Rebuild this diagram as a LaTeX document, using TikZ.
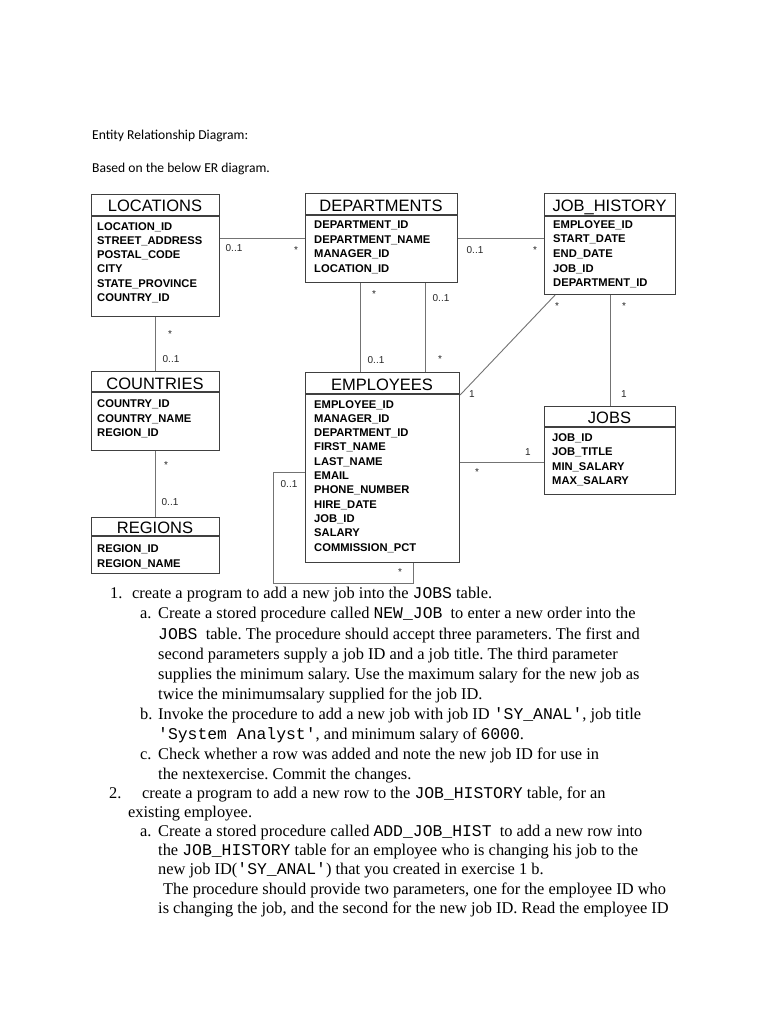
\documentclass[tikz,border=0pt]{standalone}
\usepackage{fontspec}
\setmainfont{Liberation Serif}
\setsansfont{Liberation Sans}
\setmonofont{Liberation Mono}
\newfontfamily\calib{Carlito}
\newcommand{\cd}[1]{{\ttfamily #1}}
\frenchspacing
\begin{document}
\begin{tikzpicture}[x=1pt,y=-1pt,
  ent/.style={draw=black!75, line width=1.1pt, inner sep=0pt, anchor=north west},
  sep/.style={draw=black!75, line width=1.1pt},
  hdr/.style={font=\sffamily\fontsize{16.5}{18}\selectfont, inner sep=0pt, anchor=base},
  row/.style={font=\sffamily\bfseries\fontsize{11.2}{13}\selectfont, inner sep=0pt, anchor=base west},
  conn/.style={draw=black!55, line width=0.9pt},
  lbl/.style={font=\sffamily\fontsize{10}{12}\selectfont, inner sep=0pt, anchor=base, text=black!85},
  txt/.style={font=\fontsize{16.4}{19}\selectfont, inner sep=0pt, anchor=base west},
  top/.style={font=\calib\fontsize{13.6}{16}\selectfont, inner sep=0pt, anchor=base west}]
\useasboundingbox (0,0) rectangle (768,1024);
\fill[white] (0,0) rectangle (768,1024);

% intro
\node[top] (t1) at (92,140) {Entity Relationship Diagram:};
\node[top] (t2) at (92,173) {Based on the below ER diagram.};

% entities
\node[ent, minimum width=128, minimum height=122] (loc) at (91,194) {};
\node[ent, minimum width=152, minimum height=89] (dep) at (305,193) {};
\node[ent, minimum width=131, minimum height=101] (jh) at (544,193) {};
\node[ent, minimum width=128, minimum height=79] (cou) at (91,371) {};
\node[ent, minimum width=128, minimum height=56] (reg) at (91,517) {};
\node[ent, minimum width=154, minimum height=190] (emp) at (305,372) {};
\node[ent, minimum width=131, minimum height=88] (jobs) at (544,406) {};

\draw[sep] ([yshift=-22pt]loc.north west) -- ([yshift=-22pt]loc.north east);
\draw[sep] ([yshift=-22pt]dep.north west) -- ([yshift=-22pt]dep.north east);
\draw[sep] ([yshift=-23pt]jh.north west) -- ([yshift=-23pt]jh.north east);
\draw[sep] ([yshift=-21pt]cou.north west) -- ([yshift=-21pt]cou.north east);
\draw[sep] ([yshift=-19pt]reg.north west) -- ([yshift=-19pt]reg.north east);
\draw[sep] ([yshift=-22pt]emp.north west) -- ([yshift=-22pt]emp.north east);
\draw[sep] ([yshift=-21pt]jobs.north west) -- ([yshift=-21pt]jobs.north east);

% headers
\node[hdr] (loc-h) at (155,212) {LOCATIONS};
\node[hdr] (dep-h) at (381,212) {DEPARTMENTS};
\node[hdr] (jh-h) at (609.5,212) {JOB\_HISTORY};
\node[hdr] (cou-h) at (155,389) {COUNTRIES};
\node[hdr] (reg-h) at (155,533) {REGIONS};
\node[hdr] (emp-h) at (382,390) {EMPLOYEES};
\node[hdr] (jobs-h) at (609.5,423) {JOBS};

% rows
\foreach \t [count=\i from 0] in {LOCATION\_ID,STREET\_ADDRESS,POSTAL\_CODE,CITY,STATE\_PROVINCE,COUNTRY\_ID}
  \node[row] (loc-r\i) at (97,230+14.3*\i) {\t};
\foreach \t [count=\i from 0] in {DEPARTMENT\_ID,DEPARTMENT\_NAME,MANAGER\_ID,LOCATION\_ID}
  \node[row] (dep-r\i) at (314,229+14.5*\i) {\t};
\foreach \t [count=\i from 0] in {EMPLOYEE\_ID,START\_DATE,END\_DATE,JOB\_ID,DEPARTMENT\_ID}
  \node[row] (jh-r\i) at (553,228.5+14.5*\i) {\t};
\foreach \t [count=\i from 0] in {COUNTRY\_ID,COUNTRY\_NAME,REGION\_ID}
  \node[row] (cou-r\i) at (97,407.5+14.5*\i) {\t};
\foreach \t [count=\i from 0] in {REGION\_ID,REGION\_NAME}
  \node[row] (reg-r\i) at (97,552.5+14.5*\i) {\t};
\foreach \t [count=\i from 0] in {EMPLOYEE\_ID,MANAGER\_ID,DEPARTMENT\_ID,FIRST\_NAME,LAST\_NAME,EMAIL,PHONE\_NUMBER,HIRE\_DATE,JOB\_ID,SALARY,COMMISSION\_PCT}
  \node[row] (emp-r\i) at (314,408+14.3*\i) {\t};
\foreach \t [count=\i from 0] in {JOB\_ID,JOB\_TITLE,MIN\_SALARY,MAX\_SALARY}
  \node[row] (jobs-r\i) at (552,441+14.5*\i) {\t};

% connectors
\coordinate (dx1) at (360,0);
\coordinate (dx2) at (425,0);
\coordinate (jhd) at (555,0);
\coordinate (empd) at (0,395);
\coordinate (ej) at (0,462);
\coordinate (sl1) at (273,472);
\coordinate (sl2) at (413,583);
\draw[conn] (dep.west -| loc.east) -- (dep.west);
\draw[conn] (dep.east) -- (dep.east -| jh.west);
\draw[conn] (loc.south) -- (cou.north);
\draw[conn] (cou.south) -- (reg.north);
\draw[conn] (dep.south -| dx1) -- (emp.north -| dx1);
\draw[conn] (dep.south -| dx2) -- (emp.north -| dx2);
\draw[conn] (jh.south -| jhd) -- (emp.east |- empd);
\draw[conn] (jh.south) -- (jobs.north);
\draw[conn] (emp.east |- ej) -- (jobs.west |- ej);
\draw[conn] (emp.west |- sl1) -| (sl2 -| sl1) -| (emp.south -| sl2);

% multiplicities
\node[lbl] (m1) at (234,251.5) {0..1};
\node[lbl] (m2) at (296,253.5) {*};
\node[lbl] (m3) at (475,253.5) {0..1};
\node[lbl] (m4) at (535,253.5) {*};
\node[lbl] (m5) at (170,337.5) {*};
\node[lbl] (m6) at (171,362.5) {0..1};
\node[lbl] (m7) at (166,468.5) {*};
\node[lbl] (m8) at (170,505.5) {0..1};
\node[lbl] (m9) at (374,297.5) {*};
\node[lbl] (m10) at (441,301.5) {0..1};
\node[lbl] (m11) at (376,363.5) {0..1};
\node[lbl] (m12) at (440,362.5) {*};
\node[lbl] (m13) at (557,309.5) {*};
\node[lbl] (m14) at (472,397.5) {1};
\node[lbl] (m15) at (624,309.5) {*};
\node[lbl] (m16) at (624,397.5) {1};
\node[lbl] (m17) at (528,455.5) {1};
\node[lbl] (m18) at (477,475.5) {*};
\node[lbl] (m19) at (289,487.5) {0..1};
\node[lbl] (m20) at (400,575.5) {*};

% body text
\node[txt] (n1) at (110,598) {1.};
\node[txt] (l1) at (132,598) {create a program to add a new job into the \cd{JOBS} table.};
\node[txt] (na) at (140,618) {a.};
\node[txt] (l2) at (158,618) {Create a stored procedure called \cd{NEW\_JOB}\ \ to enter a new order into the};
\node[txt] (l3) at (158,639) {\cd{JOBS}\ \ table. The procedure should accept three parameters. The first and};
\node[txt] (l4) at (158,659) {second parameters supply a job ID and a job title. The third parameter};
\node[txt] (l5) at (158,679) {supplies the minimum salary. Use the maximum salary for the new job as};
\node[txt] (l6) at (158,699) {twice the minimumsalary supplied for the job ID.};
\node[txt] (nb) at (140,719) {b.};
\node[txt] (l7) at (158,719) {Invoke the procedure to add a new job with job ID \cd{'SY\_ANAL'}, job title};
\node[txt] (l8) at (158,739) {\cd{'System Analyst'}, and minimum salary of \cd{6000}.};
\node[txt] (nc) at (140,759) {c.};
\node[txt] (l9) at (158,759) {Check whether a row was added and note the new job ID for use in};
\node[txt] (l10) at (158,779) {the nextexercise. Commit the changes.};
\node[txt] (n2) at (109,798) {2.};
\node[txt] (l11) at (142,798) {create a program to add a new row to the \cd{JOB\_HISTORY} table, for an};
\node[txt] (l12) at (128,817) {existing employee.};
\node[txt] (na2) at (140,836) {a.};
\node[txt] (l13) at (158,836) {Create a stored procedure called \cd{ADD\_JOB\_HIST}\ \ to add a new row into};
\node[txt] (l14) at (158,855) {the \cd{JOB\_HISTORY} table for an employee who is changing his job to the};
\node[txt] (l15) at (158,874) {new job ID(\cd{'SY\_ANAL'}) that you created in exercise 1 b.};
\node[txt] (l16) at (163,894) {The procedure should provide two parameters, one for the employee ID who};
\node[txt] (l17) at (158,913) {is changing the job, and the second for the new job ID. Read the employee ID};
\end{tikzpicture}
\end{document}
